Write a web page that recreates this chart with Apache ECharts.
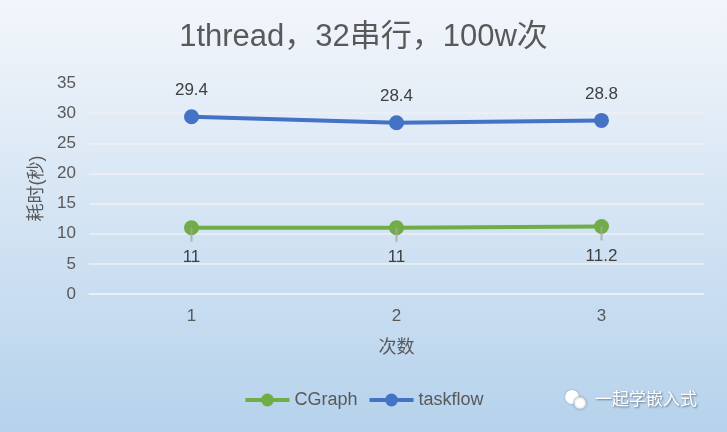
<!DOCTYPE html>
<html>
<head>
<meta charset="utf-8">
<script src="https://cdn.jsdelivr.net/npm/echarts@6/dist/echarts.min.js"></script>
<style>
html,body{margin:0;padding:0;background:#f2f2f2;}
#c{width:727px;height:432px;}
</style>
</head>
<body>
<div id="c"></div>
<script>
var categories = ['1', '2', '3'];
var cgraph = [11, 11, 11.2];
var taskflow = [29.4, 28.4, 28.8];
var yTicks = { min: 0, max: 35, interval: 5 };

var chart = echarts.init(document.getElementById('c'));
var font = '"Liberation Sans", "Noto Sans CJK SC", sans-serif';
chart.setOption({
  animation: false,
  backgroundColor: {
    type: 'linear', x: 0, y: 0, x2: 0, y2: 1,
    colorStops: [{ offset: 0, color: '#f3f6fb' }, { offset: 1, color: '#b5d2ec' }]
  },
  title: {
    text: '1thread，32串行，100w次',
    left: 'center', top: 17,
    textStyle: { fontSize: 31, fontWeight: 'normal', color: '#595959', fontFamily: font, letterSpacing: 2 }
  },
  legend: {
    data: ['CGraph', 'taskflow'],
    bottom: 18, left: 'center',
    itemWidth: 44, itemHeight: 16, itemGap: 10,
    lineStyle: { width: 4 },
    textStyle: { fontSize: 18, color: '#595959', fontFamily: font }
  },
  grid: { left: 89, right: 23, top: 83, height: 211 },
  xAxis: {
    type: 'category', data: categories,
    name: '次数', nameLocation: 'middle', nameGap: 45,
    nameTextStyle: { fontSize: 18, color: '#595959', fontFamily: font },
    axisLine: { show: true, lineStyle: { color: '#eef0f3', width: 1.5 } },
    axisTick: { show: false },
    axisLabel: { fontSize: 17, color: '#595959', margin: 14, fontFamily: font }
  },
  yAxis: {
    type: 'value', min: yTicks.min, max: yTicks.max, interval: yTicks.interval,
    name: '耗时(秒)', nameLocation: 'middle', nameGap: 40,
    nameTextStyle: { fontSize: 18, color: '#595959', fontFamily: font },
    axisLine: { show: false }, axisTick: { show: false },
    axisLabel: { fontSize: 17, color: '#595959', margin: 13, fontFamily: font },
    splitLine: { lineStyle: { color: '#eef0f3', width: 1.5 } }
  },
  series: [
    {
      name: 'CGraph', type: 'line', data: cgraph,
      symbol: 'circle', symbolSize: 15,
      itemStyle: { color: '#70ad47' },
      lineStyle: { width: 4, color: '#70ad47' },
      label: { show: true, position: 'bottom', distance: 14, fontSize: 17, color: '#404040', fontFamily: font },
      z: 2
    },
    {
      name: 'CGraph-tick', type: 'scatter', data: cgraph,
      symbol: 'rect', symbolSize: [2, 14], symbolOffset: [0, 7],
      itemStyle: { color: '#a6a6a6' }, silent: true, z: 5,
      tooltip: { show: false }
    },
    {
      name: 'taskflow', type: 'line', data: taskflow,
      symbol: 'circle', symbolSize: 15,
      itemStyle: { color: '#4472c4' },
      lineStyle: { width: 4, color: '#4472c4' },
      label: { show: true, position: 'top', distance: 10, fontSize: 17, color: '#404040', fontFamily: font },
      z: 3
    }
  ],
  graphic: [
    { type: 'circle', shape: { cx: 572, cy: 397, r: 7 }, style: { fill: '#ffffff', shadowBlur: 2, shadowColor: 'rgba(0,0,0,0.3)' } },
    { type: 'circle', shape: { cx: 580, cy: 403, r: 6 }, style: { fill: '#ffffff', stroke: '#c8d8ea', lineWidth: 1, shadowBlur: 2, shadowColor: 'rgba(0,0,0,0.3)' } },
    { type: 'text', left: 595, top: 390,
      style: { text: '一起学嵌入式', fontSize: 17, fill: '#ffffff', fontFamily: '"Noto Sans CJK SC", sans-serif',
               textShadowColor: 'rgba(0,0,0,0.45)', textShadowBlur: 2, textShadowOffsetX: 1, textShadowOffsetY: 1 } }
  ]
});
</script>
</body>
</html>
